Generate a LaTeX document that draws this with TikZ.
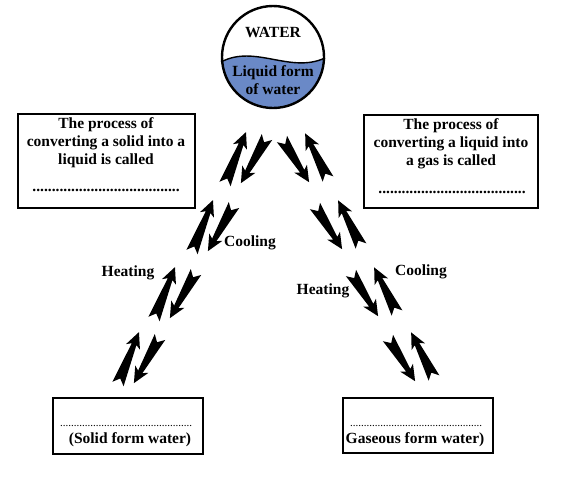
\documentclass[tikz,border=0pt]{standalone}
\usepackage{fontspec}
\setmainfont{Liberation Serif}
\definecolor{liq}{RGB}{106,137,199}
\tikzset{
  arr/.pic={\fill (#1,0) -- (#1-16,7.5) -- (#1-13,2.5) -- (0,6) -- (6,0) -- (0,-6) -- (#1-13,-2.5) -- (#1-16,-7.5) -- cycle;},
  txt/.style={font=\fontsize{15.5}{18}\selectfont\bfseries, align=center, inner sep=0pt},
  dotsm/.style={font=\fontsize{11}{13}\selectfont, inner sep=0pt},
  boxf/.style={draw, line width=2.5pt, minimum width=#1, inner sep=0pt},
}
\begin{document}
\begin{tikzpicture}[x=1pt,y=1pt]
\useasboundingbox (0,0) rectangle (561,-477);
% water circle
\coordinate (c) at (273,-57);
\begin{scope}
  \clip (c) circle (51);
  \fill[liq] (221,-62) .. controls (255,-44) and (290,-74) .. (325,-58) -- (330,-115) -- (215,-115) -- cycle;
\end{scope}
\draw[line width=1.4pt] (221,-62) .. controls (255,-44) and (290,-74) .. (325,-58);
\node[draw, circle, line width=2.4pt, minimum size=102pt, inner sep=0pt] (water) at (c) {};
\node[txt] (wt) at (273,-32) {WATER};
\node[txt] (lq) at (273,-80) {Liquid form\\of water};
% upper boxes
\node[boxf=177pt, minimum height=94pt] (boxL) at (106.5,-161) {};
\node[txt] (tL) at (106,-143) {The process of\\converting a solid into a\\liquid is called};
\node[txt] (dL) at (106,-190) {......................................};
\node[boxf=174pt, minimum height=93pt] (boxR) at (451,-161.5) {};
\node[txt] (tR) at (451,-144) {The process of\\converting a liquid into\\a gas is called};
\node[txt] (dR) at (452,-192) {......................................};
% lower boxes
\node[boxf=150pt, minimum height=56pt] (boxS) at (128,-426) {};
\node[dotsm] (dS) at (126,-426) {................................................};
\node[txt] (tS) at (130,-440) {(Solid form water)};
\node[boxf=150pt, minimum height=55pt] (boxG) at (418,-425.5) {};
\node[dotsm] (dG) at (416,-426) {................................................};
\node[txt] (tG) at (415,-440) {Gaseous form water)};
% arrows left chain
\foreach \dx/\dy in {0/0,-33/68,-71/135,-107/200}{
  \pic[rotate=68] at (225+\dx,-184-\dy) {arr=56};
  \pic[rotate=-119.5] at (267+\dx,-137-\dy) {arr=53};
}
% arrows right chain
\foreach \dx/\dy in {0/0,33/67,69/134,106/199}{
  \pic[rotate=-57.9] at (282+\dx,-139-\dy) {arr=51};
  \pic[rotate=116.6] at (328+\dx,-179-\dy) {arr=51};
}
% labels
\node[txt] (hL) at (128,-273) {Heating};
\node[txt] (cL) at (250,-243) {Cooling};
\node[txt] (cR) at (421,-272) {Cooling};
\node[txt] (hR) at (323,-291) {Heating};
\end{tikzpicture}
\end{document}
